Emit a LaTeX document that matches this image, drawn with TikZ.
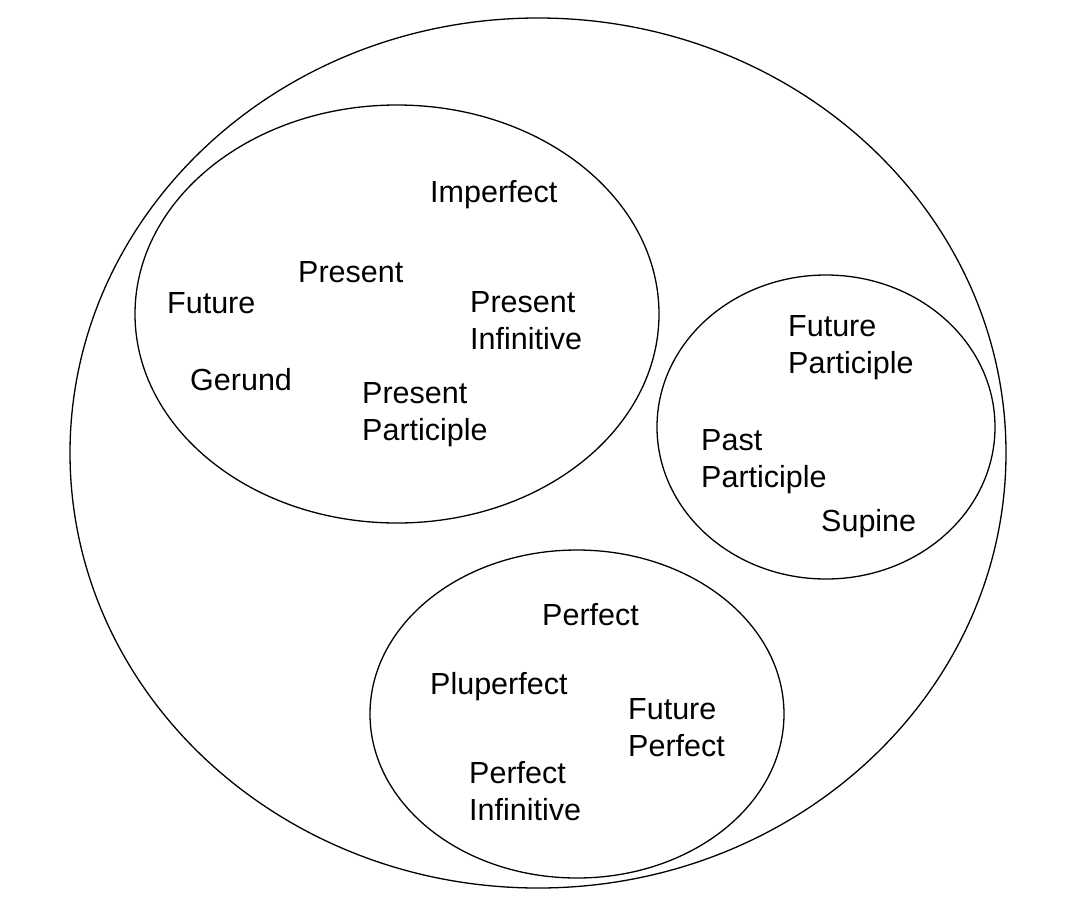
\documentclass[tikz,border=0pt]{standalone}
\usepackage{fontspec}
\setmainfont{Liberation Sans}
\begin{document}
\begin{tikzpicture}[x=1pt,y=-1pt,
  ell/.style={draw,line width=1.3pt},
  lab/.style={anchor=west,inner sep=0pt,align=left,font=\fontsize{30.5}{37}\selectfont}]
\useasboundingbox (0,0) rectangle (1071,922);
\draw[ell] (538,453) ellipse [x radius=468, y radius=435];
\draw[ell] (397,314) ellipse [x radius=262, y radius=209];
\draw[ell] (826,427) ellipse [x radius=169, y radius=152];
\draw[ell] (577,714) ellipse [x radius=207, y radius=164];
\node[lab] (imp) at (430,195) {Imperfect};
\node[lab] (pres) at (298,272) {Present};
\node[lab] (fut) at (167,303) {Future};
\node[lab] (pinf) at (470,321) {Present\\Infinitive};
\node[lab] (ger) at (190,380) {Gerund};
\node[lab] (ppart) at (362,415) {Present\\Participle};
\node[lab] (fpart) at (788,348) {Future\\Participle};
\node[lab] (pastp) at (701,462) {Past\\Participle};
\node[lab] (sup) at (821,524) {Supine};
\node[lab] (perf) at (542,615) {Perfect};
\node[lab] (plup) at (430,687) {Pluperfect};
\node[lab] (fperf) at (628,728) {Future\\Perfect};
\node[lab] (perfinf) at (469,791) {Perfect\\Infinitive};
\end{tikzpicture}
\end{document}
